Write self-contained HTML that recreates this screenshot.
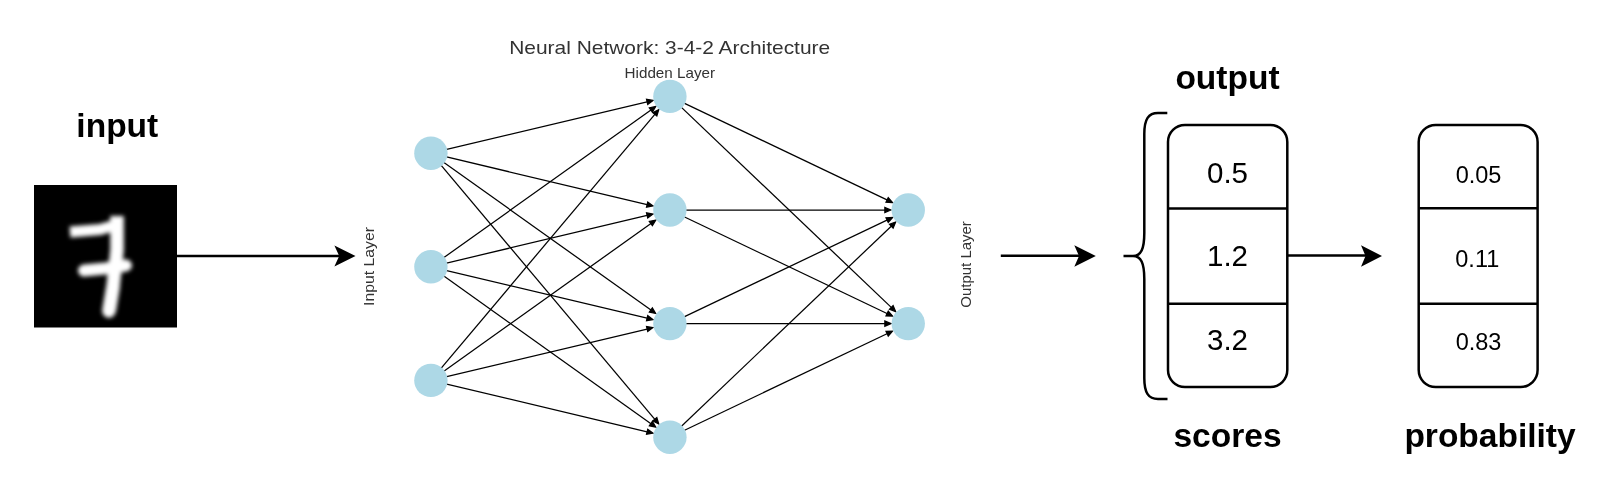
<!DOCTYPE html>
<html><head><meta charset="utf-8">
<style>
html,body{margin:0;padding:0;background:#fff;}
body{width:1600px;height:501px;overflow:hidden;position:relative;}
svg{position:absolute;left:0;top:0;will-change:transform;}
text{font-family:"Liberation Sans", sans-serif;}
</style></head><body>
<svg width="1600" height="501" viewBox="0 0 1600 501">
<defs>
<filter id="blur" x="-30%" y="-30%" width="160%" height="160%"><feGaussianBlur stdDeviation="2"/></filter>
</defs>
<rect x="0" y="0" width="1600" height="501" fill="#fff"/>
<!-- input label -->
<text x="117.3" y="136.6" font-size="33.5" font-weight="bold" text-anchor="middle" fill="#000">input</text>
<!-- mnist box -->
<rect x="34" y="185" width="143" height="142.5" fill="#000"/>
<g filter="url(#blur)" stroke="#fff" stroke-linecap="round" fill="none">
<path d="M70 232 L 100 229.5 L 116 225" stroke-width="11" stroke-linecap="butt"/>
<path d="M117 216 L 117 250 L 113 287 L 109 311" stroke-width="13.5" stroke-linecap="butt"/><path d="M113 287 L 109 311" stroke-width="13.5"/>
<path d="M84 270.5 L 105 268.5 L 126 265.5" stroke-width="12"/>
</g>
<!-- arrow 1 -->
<line x1="177" y1="256" x2="340" y2="256" stroke="#000" stroke-width="2.5"/>
<polygon points="355.5,256 334.4,245.4 339.2,256 334.4,266.6" fill="#000"/>
<text transform="translate(374,266.5) rotate(-90)" font-size="14" text-anchor="middle" textLength="79" lengthAdjust="spacingAndGlyphs" fill="#333">Input Layer</text>
<!-- title -->
<text x="669.7" y="54" font-size="19" text-anchor="middle" textLength="321" lengthAdjust="spacingAndGlyphs" fill="#333">Neural Network: 3-4-2 Architecture</text>
<text x="669.8" y="77.8" font-size="14.5" text-anchor="middle" textLength="90.5" lengthAdjust="spacingAndGlyphs" fill="#333">Hidden Layer</text>
<text transform="translate(971.4,264.4) rotate(-90)" font-size="14.5" text-anchor="middle" textLength="86.5" lengthAdjust="spacingAndGlyphs" fill="#333">Output Layer</text>
<g stroke="#000" stroke-width="1.25" fill="#000">
<line x1="430.90" y1="153.20" x2="648.11" y2="101.58"/>
<polygon points="652.97,100.42 647.74,104.34 646.53,99.28"/>
<line x1="430.90" y1="153.20" x2="648.11" y2="204.82"/>
<polygon points="652.97,205.98 646.53,207.12 647.74,202.06"/>
<line x1="430.90" y1="153.20" x2="651.66" y2="310.60"/>
<polygon points="655.73,313.50 649.34,312.13 652.36,307.90"/>
<line x1="430.90" y1="153.20" x2="655.48" y2="420.06"/>
<polygon points="658.70,423.89 652.84,420.97 656.82,417.62"/>
<line x1="430.90" y1="266.80" x2="651.66" y2="109.40"/>
<polygon points="655.73,106.50 652.36,112.10 649.34,107.87"/>
<line x1="430.90" y1="266.80" x2="648.11" y2="215.18"/>
<polygon points="652.97,214.02 647.74,217.94 646.53,212.88"/>
<line x1="430.90" y1="266.80" x2="648.11" y2="318.42"/>
<polygon points="652.97,319.58 646.53,320.72 647.74,315.66"/>
<line x1="430.90" y1="266.80" x2="651.66" y2="424.20"/>
<polygon points="655.73,427.10 649.34,425.73 652.36,421.50"/>
<line x1="430.90" y1="380.40" x2="655.48" y2="113.54"/>
<polygon points="658.70,109.71 656.82,115.98 652.84,112.63"/>
<line x1="430.90" y1="380.40" x2="651.66" y2="223.00"/>
<polygon points="655.73,220.10 652.36,225.70 649.34,221.47"/>
<line x1="430.90" y1="380.40" x2="648.11" y2="328.78"/>
<polygon points="652.97,327.62 647.74,331.54 646.53,326.48"/>
<line x1="430.90" y1="380.40" x2="648.11" y2="432.02"/>
<polygon points="652.97,433.18 646.53,434.32 647.74,429.26"/>
<line x1="669.90" y1="96.40" x2="888.03" y2="200.36"/>
<polygon points="892.54,202.51 886.01,202.28 888.25,197.59"/>
<line x1="669.90" y1="96.40" x2="892.04" y2="308.14"/>
<polygon points="895.66,311.59 889.52,309.34 893.11,305.57"/>
<line x1="669.90" y1="210.00" x2="885.85" y2="210.00"/>
<polygon points="890.85,210.00 884.85,212.60 884.85,207.40"/>
<line x1="669.90" y1="210.00" x2="888.03" y2="313.96"/>
<polygon points="892.54,316.11 886.01,315.88 888.25,311.19"/>
<line x1="669.90" y1="323.60" x2="888.03" y2="219.64"/>
<polygon points="892.54,217.49 888.25,222.41 886.01,217.72"/>
<line x1="669.90" y1="323.60" x2="885.85" y2="323.60"/>
<polygon points="890.85,323.60 884.85,326.20 884.85,321.00"/>
<line x1="669.90" y1="437.20" x2="892.04" y2="225.46"/>
<polygon points="895.66,222.01 893.11,228.03 889.52,224.26"/>
<line x1="669.90" y1="437.20" x2="888.03" y2="333.24"/>
<polygon points="892.54,331.09 888.25,336.01 886.01,331.32"/>
</g>
<g fill="#ADD8E6">
<circle cx="430.9" cy="153.20" r="16.7"/>
<circle cx="430.9" cy="266.80" r="16.7"/>
<circle cx="430.9" cy="380.40" r="16.7"/>
<circle cx="669.9" cy="96.40" r="16.7"/>
<circle cx="669.9" cy="210.00" r="16.7"/>
<circle cx="669.9" cy="323.60" r="16.7"/>
<circle cx="669.9" cy="437.20" r="16.7"/>
<circle cx="908.25" cy="210.00" r="16.7"/>
<circle cx="908.25" cy="323.60" r="16.7"/>
</g>
<!-- arrow 2 -->
<line x1="1000.8" y1="255.7" x2="1080" y2="255.7" stroke="#000" stroke-width="2.5"/>
<polygon points="1095.8,256 1074.3,245.2 1079,256 1074.3,266.8" fill="#000"/>
<!-- brace -->
<path d="M1167.3 113 L1158 113 C1148.5 113 1144.3 119 1144.3 134 L1144.3 233 C1144.3 249 1141 256 1133 256 L1123.5 256 M1133 256 C1141 256 1144.3 263 1144.3 279 L1144.3 378 C1144.3 393 1148.5 399 1158 399 L1167.5 399" fill="none" stroke="#000" stroke-width="2.5"/>
<!-- box 1 -->
<rect x="1168" y="125" width="119.3" height="262" rx="17" ry="17" fill="none" stroke="#000" stroke-width="2.5"/>
<line x1="1168" y1="208.5" x2="1287.3" y2="208.5" stroke="#000" stroke-width="2.5"/>
<line x1="1168" y1="303.8" x2="1287.3" y2="303.8" stroke="#000" stroke-width="2.5"/>
<text x="1227.5" y="183.2" font-size="29.5" text-anchor="middle" fill="#000">0.5</text>
<text x="1227.5" y="266.2" font-size="29.5" text-anchor="middle" fill="#000">1.2</text>
<text x="1227.5" y="350.2" font-size="29.5" text-anchor="middle" fill="#000">3.2</text>
<!-- arrow 3 -->
<line x1="1287.3" y1="255.6" x2="1366" y2="255.6" stroke="#000" stroke-width="2.5"/>
<polygon points="1382,256 1361,245.3 1365.5,256 1361,266.7" fill="#000"/>
<!-- box 2 -->
<rect x="1418.7" y="125" width="118.9" height="262" rx="17" ry="17" fill="none" stroke="#000" stroke-width="2.5"/>
<line x1="1418.7" y1="208.3" x2="1537.6" y2="208.3" stroke="#000" stroke-width="2.5"/>
<line x1="1418.7" y1="303.8" x2="1537.6" y2="303.8" stroke="#000" stroke-width="2.5"/>
<text x="1478.5" y="183" font-size="23.5" text-anchor="middle" fill="#000">0.05</text>
<text x="1477.3" y="267" font-size="23.5" text-anchor="middle" fill="#000">0.11</text>
<text x="1478.5" y="350.3" font-size="23.5" text-anchor="middle" fill="#000">0.83</text>
<!-- labels -->
<text x="1227.5" y="88.5" font-size="33.5" font-weight="bold" text-anchor="middle" fill="#000">output</text>
<text x="1227.5" y="447.3" font-size="33.5" font-weight="bold" text-anchor="middle" fill="#000">scores</text>
<text x="1490" y="446.8" font-size="33.5" font-weight="bold" text-anchor="middle" fill="#000">probability</text>
</svg>
</body></html>
